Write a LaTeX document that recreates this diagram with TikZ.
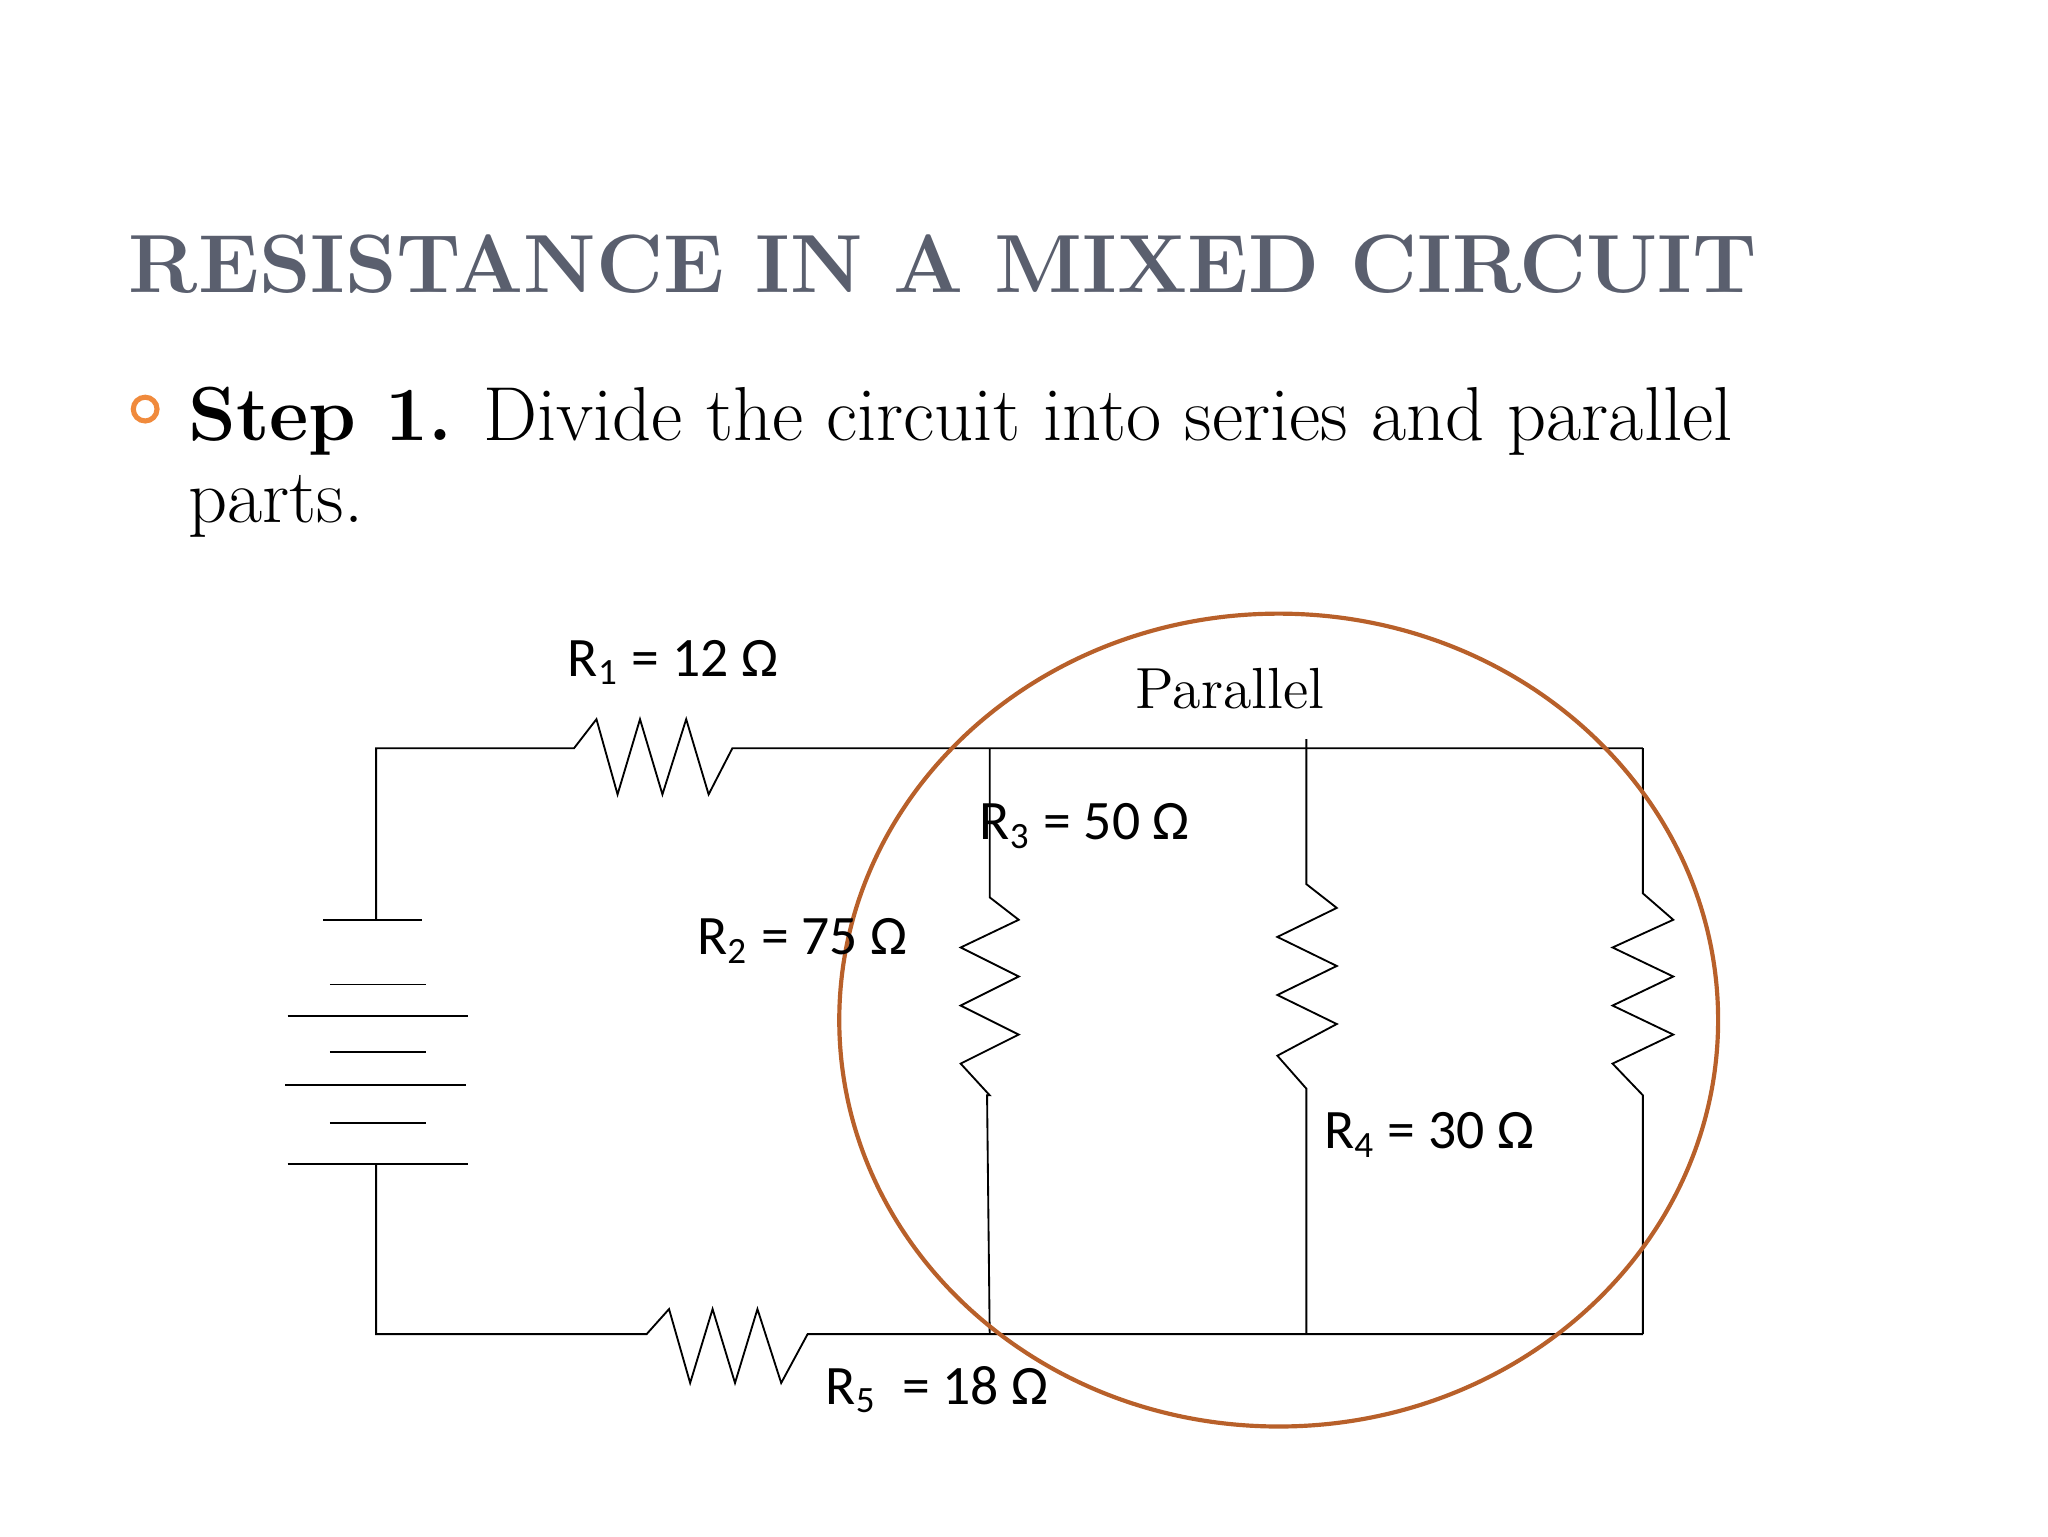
\documentclass[tikz,border=0pt]{standalone}
\usepackage{fontspec}
\setmainfont{Latin Modern Roman}
\newfontfamily\lab{Carlito}
\definecolor{titlec}{HTML}{5A5F6E}
\definecolor{ell}{HTML}{B8602A}
\definecolor{bul}{HTML}{F08A3C}
\begin{document}
\begin{tikzpicture}[x=0.1mm,y=-0.1mm,wire/.style={line width=0.4pt,black},
 lbl/.style={font=\lab\fontsize{12}{14}\selectfont,inner sep=0}]
\useasboundingbox (0,0) rectangle (1552,1164);
\node[anchor=base west,inner sep=0,text=titlec,font=\bfseries\fontsize{17.8}{22}\selectfont] (title) at (97,222) {RESISTANCE IN A MIXED CIRCUIT};
\draw[bul,line width=1.1pt] (110,310) circle (9);
\node[anchor=base west,inner sep=0,font=\fontsize{16.5}{19}\selectfont] (s1) at (142,334) {\textbf{Step 1.} Divide the circuit into series and parallel};
\node[anchor=base west,inner sep=0,font=\fontsize{16.5}{19}\selectfont] (s2) at (142,396) {parts.};
% top wire with R1
\draw[wire] (285,697)--(285,567)--(435,567)--(452,545)--(468,602)--(485,545)--(502,602)--(520,545)--(537,602)--(555,567)--(1245,567);
% battery
\foreach \y/\a/\b in {697/245/320,746/250/323,770/218/355,797/250/323,822/216/353,851/250/323,882/218/355}
  \draw[wire] (\a,\y)--(\b,\y);
% bottom wire with R5
\draw[wire] (285,882)--(285,1011)--(490,1011)--(507,992)--(523,1048)--(540,992)--(557,1048)--(574,992)--(592,1048)--(612,1011)--(1245,1011);
% R3
\draw[wire] (750,567)--(750,680)--(772,697)--(728,718)--(772,740)--(728,762)--(772,784)--(728,806)--(750,830)--(748,830)--(750,1011);
% R4
\draw[wire] (990,560)--(990,670)--(1013,688)--(968,710)--(1013,732)--(968,754)--(1013,776)--(968,800)--(990,825)--(990,1011);
% R6
\draw[wire] (1245,567)--(1245,677)--(1268,697)--(1222,718)--(1268,740)--(1222,762)--(1268,784)--(1222,806)--(1245,830)--(1245,1011);
\draw[ell,line width=0.9pt] (969,773) ellipse [x radius=333,y radius=308];
\node[lbl] (r1) at (510,502) {R\textsubscript{1} = 12 Ω};
\node[font=\fontsize{12.5}{15}\selectfont,inner sep=0] (par) at (932,522) {Parallel};
\node[lbl] (r3) at (822,626) {R\textsubscript{3} = 50 Ω};
\node[lbl] (r2) at (608,713) {R\textsubscript{2} = 75 Ω};
\node[lbl] (r4) at (1083,860) {R\textsubscript{4} = 30 Ω};
\node[lbl] (r5) at (710,1053) {R\textsubscript{5}~ = 18 Ω};
\end{tikzpicture}
\end{document}
